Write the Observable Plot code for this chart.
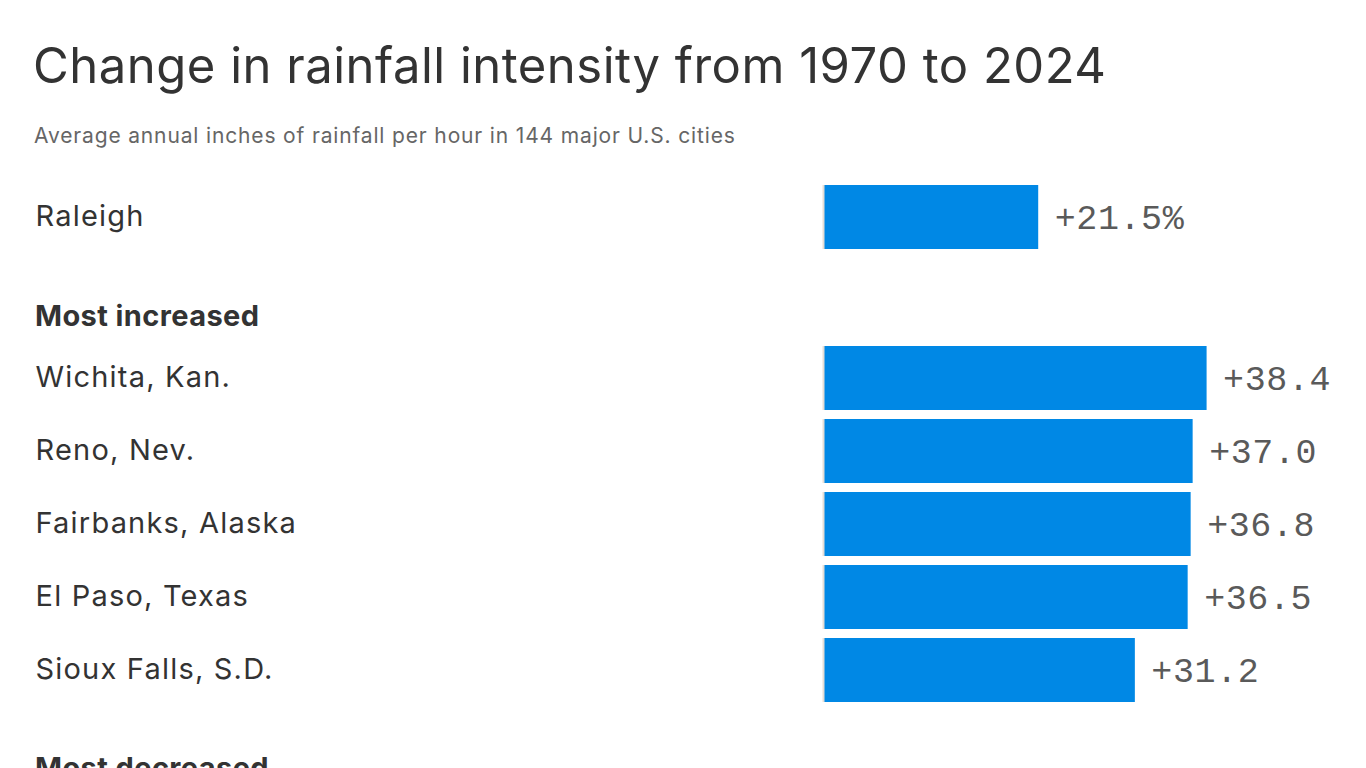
<!DOCTYPE html>
<html>
<head>
<meta charset="utf-8">
<script src="https://cdn.jsdelivr.net/npm/d3@7"></script>
<script src="https://cdn.jsdelivr.net/npm/@observablehq/plot@0.6"></script>
<style>
  html, body { margin: 0; padding: 0; background: #fff; overflow: hidden; }
  body { width: 1366px; height: 768px; position: relative; font-family: Inter, "Noto Sans", sans-serif; }
  .abs { position: absolute; white-space: nowrap; }
  #title { left: 33px; top: 41px; font-size: 49px; line-height: 49px; color: #333; letter-spacing: 0.5px; }
  #subtitle { left: 34px; top: 125px; font-size: 21px; line-height: 21px; color: #666; letter-spacing: 0.85px; }
  .head { left: 35px; font-size: 29px; line-height: 29px; font-weight: 700; color: #333; letter-spacing: 0.4px; }
  svg { display: block; }
</style>
</head>
<body>
<div id="title" class="abs">Change in rainfall intensity from 1970 to 2024</div>
<div id="subtitle" class="abs">Average annual inches of rainfall per hour in 144 major U.S. cities</div>
<div id="sec1" class="abs" style="left:0;top:185px"></div>
<div id="head1" class="abs head" style="top:301px"></div>
<div id="sec2" class="abs" style="left:0;top:345px"></div>
<div id="head2" class="abs head" style="top:753px"></div>
<script>
// ---- data ----
const featuredCities = ["Raleigh"];
const featuredValues = [21.5];
const sectionHeaders = ["Most increased", "Most decreased"];
const increasedCities = ["Wichita, Kan.", "Reno, Nev.", "Fairbanks, Alaska", "El Paso, Texas", "Sioux Falls, S.D."];
const increasedValues = [38.4, 37.0, 36.8, 36.5, 31.2];
const xDomain = [0, 54.4];

const BLUE = "#0088e5";

function barSection(cities, values, fmt, height, paddingInner) {
  const rows = cities.map((c, i) => ({city: c, value: values[i], label: fmt(values[i])}));
  const marginLeft = 824;
  const svg = Plot.plot({
    width: 1366,
    height,
    marginLeft,
    marginRight: 0,
    marginTop: 0,
    marginBottom: 0,
    x: {domain: xDomain, axis: null},
    y: {domain: cities, axis: null, paddingInner, paddingOuter: 0},
    marks: [
      Plot.barX(rows, {y: "city", x: "value", fill: BLUE}),
      Plot.tickX(rows, {x: 0, y: "city", stroke: "#e6ded6", strokeWidth: 2, dx: -1}),
      Plot.text(rows, {y: "city", text: "city", frameAnchor: "left", textAnchor: "start", dx: -(marginLeft - 35),
        fontSize: 29, fill: "#333", fontFamily: "Inter, 'Noto Sans', sans-serif", dy: -1}),
      Plot.text(rows, {y: "city", x: "value", text: "label", textAnchor: "start", dx: 16,
        fontSize: 35, fill: "#5a5a5a", fontFamily: "'Liberation Mono', 'DejaVu Sans Mono', monospace"})
    ]
  });
  const texts = svg.querySelectorAll('g[aria-label="text"]');
  if (texts[0]) texts[0].style.letterSpacing = "1.2px";
  if (texts[1]) texts[1].style.letterSpacing = "0.6px";
  return svg;
}

const signed = v => (v >= 0 ? "+" : "") + v.toFixed(1);
document.getElementById("sec1").appendChild(barSection(featuredCities, featuredValues, v => signed(v) + "%", 64, 0));
document.getElementById("head1").textContent = sectionHeaders[0];
document.getElementById("sec2").appendChild(barSection(increasedCities, increasedValues, signed, 357, 0.126));
document.getElementById("head2").textContent = sectionHeaders[1];
</script>
</body>
</html>
